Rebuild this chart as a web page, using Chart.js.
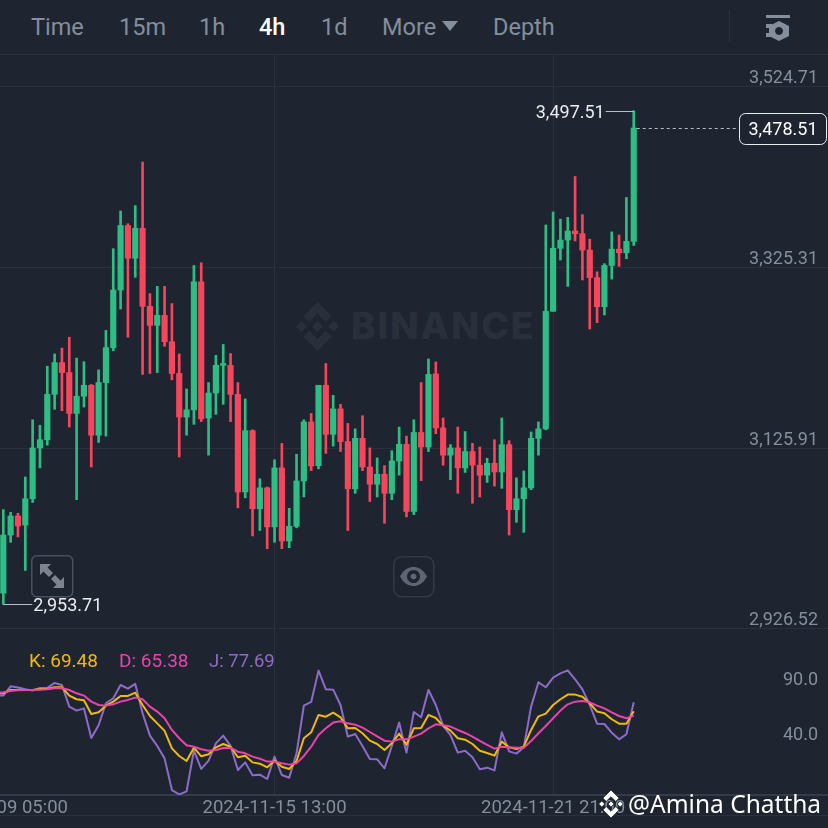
<!DOCTYPE html>
<html>
<head>
<meta charset="utf-8">
<title>ETH/USDT 4h</title>
<script src="https://cdn.jsdelivr.net/npm/chart.js@4/dist/chart.umd.min.js"></script>
<style>
  html, body { margin: 0; padding: 0; background: #1e2530; }
  #stage { position: relative; width: 828px; height: 828px; overflow: hidden; background: #1e2530; font-family: Roboto, sans-serif; }
  #stage canvas { position: absolute; left: 0; }
  .tab { position: absolute; top: 13px; font-size: 23.5px; line-height: 28px; color: #848e9c; }
  .tab.active { color: #fff; font-weight: 500; }
  .rule { position: absolute; left: 0; width: 828px; height: 1px; background: #2b313c; }
  .kdj { position: absolute; top: 651px; font-size: 19px; line-height: 20px; }
  svg { position: absolute; overflow: visible; }
  #wm { position: absolute; left: 351px; top: 304px; font-family: Inter, sans-serif; font-weight: 800; font-size: 37px; line-height: 44px; letter-spacing: 2px; color: #2a303b; }
  #credit { position: absolute; left: 628px; top: 787px; font-family: "Noto Sans", sans-serif; font-size: 24.5px; line-height: 34px; color: #fff; white-space: nowrap; }
</style>
</head>
<body>
<div id="stage">
  <div class="tab" style="left:31px">Time</div>
  <div class="tab" style="left:119px">15m</div>
  <div class="tab" style="left:199px">1h</div>
  <div class="tab active" style="left:259px">4h</div>
  <div class="tab" style="left:321px">1d</div>
  <div class="tab" style="left:382px">More</div>
  <div class="tab" style="left:493px">Depth</div>
  <svg style="left:0;top:0" width="828" height="54">
    <path d="M442 21h16l-8 10z" fill="#848e9c"/>
    <rect x="729" y="10" width="1" height="32" fill="#2b313c"/>
    <rect x="766" y="15" width="24" height="3" fill="#848e9c"/>
    <rect x="766" y="24" width="6" height="4" fill="#848e9c"/>
    <rect x="766" y="33" width="6" height="4" fill="#848e9c"/>
    <path d="M779 21l10 5v10l-10 5-10-5V26z M779 27a4 4 0 1 0 .01 0z" fill="#848e9c" fill-rule="evenodd"/>
  </svg>
  <div class="rule" style="top:54px"></div>

  <!-- watermark goes under the candles -->
  <svg style="left:293px;top:302px" width="49" height="49" viewBox="-50 -50 100 100" fill="#2a303b">
    <path d="M0-50L29-21 17-9 0-26-17-9-29-21z M0 50L29 21 17 9 0 26-17 9-29 21z M0-11L11 0 0 11-11 0z M-33-11L-22 0-33 11-44 0z M33-11L44 0 33 11 22 0z"/>
  </svg>
  <div id="wm">BINANCE</div>

  <canvas id="priceChart" width="828" height="575" style="top:55px"></canvas>
  <canvas id="kdjChart" width="828" height="185" style="top:630px"></canvas>

  <div class="rule" style="top:815px"></div>

  <svg style="left:31px;top:555px" width="42" height="42" fill="none">
    <rect x="0.75" y="0.75" width="41" height="41" rx="5" stroke="#4a505c" stroke-width="1.5"/>
    <path d="M9 9h11l-3.5 3.5L22 18l-4 4-5.5-5.5L9 20z M33 33H22l3.5-3.5L20 24l4-4 5.5 5.5L33 22z" fill="#7d838f"/>
  </svg>
  <svg style="left:393px;top:556px" width="41" height="41" fill="none">
    <rect x="0.75" y="0.75" width="40" height="40" rx="8" stroke="#343a45" stroke-width="1.5"/>
    <path d="M7 20.5C11 13 16 11 20.5 11S30 13 34 20.5C30 28 25 30 20.5 30S11 28 7 20.5z M20.5 14a6.500 6.500 0 1 0 .01 0z M20.5 17.500a3 3 0 1 1-.01 0z" fill="#5f6673" fill-rule="evenodd"/>
  </svg>

  <div class="kdj" style="left:29px;color:#f0b90b">K: 69.48</div>
  <div class="kdj" style="left:119px;color:#e844ac">D: 65.38</div>
  <div class="kdj" style="left:209px;color:#8d6cc9;font-size:18.5px">J: 77.69</div>

  <svg style="left:597px;top:790px" width="28" height="28" viewBox="-50 -50 100 100" fill="#fff" stroke="#1e2530" stroke-width="3">
    <path d="M0-50L29-21 17-9 0-26-17-9-29-21z M0 50L29 21 17 9 0 26-17 9-29 21z M0-11L11 0 0 11-11 0z M-33-11L-22 0-33 11-44 0z M33-11L44 0 33 11 22 0z"/>
  </svg>
  <div id="credit">@Amina Chattha</div>
</div>

<script>
// candles, one 4h bar each
const opens = [
  2966,3030,3051,3041,3070,3126,3135,3185,3220,3209,
  3164,3183,3195,3140,3198,3236.5,3300,3371,3335,3368,
  3282,3261,3272,3243,3208,3160,3168,3309,3159,3186.5,
  3217,3217,3185,3077.5,3145,3059,3082,3039,3104,3023.5,
  3039.6,3089.6,3154.6,3106.5,3195,3141,3169,3133,3081,3136.6,
  3105,3086,3097,3076,3111.6,3130,3056,3143,3127,3207.5,
  3148,3118,3126,3104,3122,3107,3096,3109,3099.5,3129.6,
  3058,3070,3082,3136.6,3147,3276.5,3346,3355,3365,3362,
  3344,3313.6,3281.6,3327,3345,3341,3353.6
];
const highs = [
  3058,3055,3054,3094,3157,3151,3216,3229.5,3236,3248,
  3225,3221,3196,3212,3255.5,3345.5,3387,3373,3393,3441,
  3296,3304,3304,3285,3229.5,3191,3327,3330,3198,3228,
  3240,3230,3198,3180,3146,3092,3083,3113,3131,3059.5,
  3119,3157,3164,3195,3219,3184,3174,3153,3147,3161.5,
  3126,3115,3106.5,3123,3149,3139,3157,3198,3224,3220.7,
  3159,3129.6,3149,3144,3131,3127,3114.6,3135,3159,3134,
  3093,3100.6,3143.6,3154.6,3371.6,3386,3378,3380,3425,3383,
  3356,3320,3329,3364,3360.6,3402,3497.51
];
const lows = [
  2953.71,3022,3028,2991,3066,3104,3129,3168.5,3167,3149,
  3069,3171,3105,3132,3139,3233,3279,3248,3314,3207,
  3208,3209,3238,3201,3116,3140,3152,3155,3118,3163,
  3174,3155,3060,3071,3029,3035,3015,3022,3015,3016,
  3038,3072,3101,3103,3120,3128,3122,3035,3076,3101,
  3067,3072,3043,3069,3096,3050,3052.5,3090,3122,3141.7,
  3107,3091,3076,3099,3065,3072,3088,3084,3081.5,3030,
  3044,3033,3080,3118,3146,3276.5,3333,3304,3354,3311,
  3257,3264,3272.5,3312,3326,3334.5,3349
];
const closes = [
  3030,3051,3040,3070,3126,3135,3185,3220,3209,3164,
  3183,3195,3140,3198,3236.5,3300,3371,3335,3368,3282,
  3261,3272,3243,3208,3160,3168,3309,3158,3186.5,3217,
  3219,3185,3077.5,3145,3059,3082,3039,3104,3023.5,3039.6,
  3089.6,3154.6,3106,3195,3141,3169,3133,3081,3136.6,3105,
  3086,3097,3076,3111.6,3130,3056,3143,3127,3207,3148,
  3118,3126,3104,3122,3107,3096,3109,3099.5,3129.6,3058,
  3070,3082,3136.6,3147,3276.5,3346,3355,3365,3362,3344,
  3313.6,3281.6,3327,3345,3341,3353.6,3478.51
];

// KDJ, these start one bar before the first candle (just off the left edge)
const kValues = [
  86.0,86.0,89.1,89.1,89.1,89.1,90.0,90.0,91.6,91.6,
  83.9,80.5,79.5,66.9,68.4,74.6,78.3,83.6,83.6,86.6,
  75.2,65.0,58.2,51.2,35.1,28.0,23.4,35.7,27.7,29.6,
  36.0,39.1,36.6,26.8,28.3,22.1,20.9,17.5,23.7,18.1,
  16.0,23.4,44.4,49.9,66.0,64.4,68.1,63.8,53.6,53.9,
  49.0,42.2,39.1,33.6,39.7,48.7,38.5,53.6,53.9,66.0,
  63.2,55.8,51.5,44.4,43.1,39.1,32.9,30.8,28.3,41.3,
  36.0,34.5,36.6,52.1,64.7,67.2,75.2,80.5,84.8,84.8,
  82.9,76.8,69.1,67.5,62.0,57.9,57.9,69.48
];
const dValues = [
  86.6,86.9,88.2,88.8,89.1,89.1,89.4,89.7,90.7,91.0,
  89.1,86.0,83.9,78.3,75.2,74.6,75.8,78.3,79.9,82.0,
  80.5,73.7,69.1,62.9,52.1,44.4,37.9,36.6,34.2,32.9,
  33.6,35.4,35.7,32.0,30.5,27.4,25.5,22.8,22.8,21.2,
  20.0,21.2,28.0,36.6,47.4,53.6,58.9,60.1,58.2,57.0,
  54.2,50.2,46.2,42.2,41.3,43.4,43.4,45.9,48.7,53.6,
  57.3,56.4,55.2,52.1,49.3,45.9,41.9,38.2,34.8,36.6,
  36.0,35.7,35.7,41.9,49.0,55.8,62.9,70.0,75.8,78.3,
  78.9,77.7,74.6,72.1,68.4,65.0,62.9,65.38
];
const jValues = [
  83.9,83.9,92.5,91.3,89.7,88.5,91.0,91.0,95.6,93.7,
  73.7,70.0,72.1,44.7,56.4,76.8,81.4,93.7,90.3,94.7,
  67.5,46.8,37.3,25.8,-3.5,-7.5,-4.7,32.9,16.0,23.7,
  39.7,46.8,37.3,15.0,22.1,10.1,10.7,6.7,27.4,10.4,
  7.9,30.5,74.6,78.0,107.0,89.7,89.4,75.2,45.9,48.4,
  37.3,25.2,24.9,16.6,37.3,58.9,31.1,68.7,63.8,89.1,
  75.2,55.8,47.4,31.1,32.9,26.8,15.7,17.2,14.7,49.9,
  32.3,30.2,36.0,73.7,96.2,91.6,100.5,104.5,107.3,99.0,
  89.7,75.2,57.9,57.6,49.6,43.4,48.1,77.69
];

// axes
const priceTicks = [2926.52, 3125.91, 3325.31, 3524.71];
const kdjTicks = [40, 90];
const timeTickBars = [-1, 37, 75];
const timeTickLabels = ["2024-11-09 05:00", "2024-11-15 13:00", "2024-11-21 21:00"];

const UP = "#2ebd85";
const DOWN = "#f6465d";
const GRID = "#2b313c";
const MUTED = "#848e9c";
const FONT = "Roboto, sans-serif";

// same bar window on both panels so the candles and KDJ line up
const BAR_MIN = -0.45;
const BAR_MAX = 112.5;

function fmtPrice(v) {
  return v.toLocaleString("en-US", { minimumFractionDigits: 2, maximumFractionDigits: 2 });
}

function noPadding(scale) {
  scale.paddingTop = scale.paddingBottom = scale.paddingLeft = scale.paddingRight = 0;
}

// mirrored labels sit inside the plot, so the y axis takes no room
function flatYAxis(scale) {
  noPadding(scale);
  scale.width = 0;
}

function setTicks(values) {
  return (scale) => {
    scale.ticks = values.map((v) => ({ value: v }));
  };
}

// high / low call-outs and the last price tag
const priceMarks = {
  id: "priceMarks",
  afterDatasetsDraw(chart) {
    const { ctx, scales } = chart;
    const x = scales.x;
    const y = scales.y;
    const hi = Math.max(...highs);
    const lo = Math.min(...lows);
    const hiBar = highs.indexOf(hi);
    const loBar = lows.indexOf(lo);
    const last = closes[closes.length - 1];

    ctx.save();
    ctx.font = "18px " + FONT;
    ctx.textBaseline = "middle";
    ctx.strokeStyle = "#b7bdc6";
    ctx.fillStyle = "#eaecef";
    ctx.lineWidth = 1;

    const hiY = Math.round(y.getPixelForValue(hi)) + 0.5;
    ctx.beginPath();
    ctx.moveTo(x.getPixelForValue(hiBar), hiY);
    ctx.lineTo(x.getPixelForValue(hiBar) - 28, hiY);
    ctx.stroke();
    ctx.textAlign = "right";
    ctx.fillText(fmtPrice(hi), x.getPixelForValue(hiBar) - 29, hiY + 2);

    const loY = Math.round(y.getPixelForValue(lo)) + 0.5;
    ctx.beginPath();
    ctx.moveTo(x.getPixelForValue(loBar), loY);
    ctx.lineTo(x.getPixelForValue(loBar) + 29, loY);
    ctx.stroke();
    ctx.textAlign = "left";
    ctx.fillText(fmtPrice(lo), x.getPixelForValue(loBar) + 30, loY + 2);

    // dashed line out to the last price box
    const lastY = Math.round(y.getPixelForValue(last)) + 0.5;
    ctx.setLineDash([3, 3]);
    ctx.beginPath();
    ctx.moveTo(x.getPixelForValue(closes.length - 1) + 3, lastY);
    ctx.lineTo(738, lastY);
    ctx.stroke();
    ctx.setLineDash([]);

    ctx.strokeStyle = "#eaecef";
    ctx.beginPath();
    ctx.roundRect(739.5, lastY - 15, 87, 31, 6);
    ctx.stroke();
    ctx.textAlign = "center";
    ctx.fillStyle = "#fff";
    ctx.fillText(fmtPrice(last), 783, lastY + 2);
    ctx.restore();
  },
};

function buildPriceChart(el) {
  const wicks = highs.map((h, i) => ({ x: i, y: [lows[i], h] }));
  const bodies = opens.map((o, i) => ({ x: i, y: [o, closes[i]] }));
  const colors = opens.map((o, i) => (closes[i] >= o ? UP : DOWN));
  return new Chart(el.getContext("2d"), {
    type: "bar",
    data: {
      datasets: [
        { data: bodies, backgroundColor: colors, barThickness: 5.5, grouped: false },
        { data: wicks, backgroundColor: colors, barThickness: 2, grouped: false },
      ],
    },
    options: {
      responsive: false,
      animation: false,
      events: [],
      plugins: { legend: { display: false }, tooltip: { enabled: false } },
      layout: { padding: 0 },
      scales: {
        x: {
          type: "linear",
          offset: false,
          min: BAR_MIN,
          max: BAR_MAX,
          afterBuildTicks: setTicks(timeTickBars),
          afterFit: (s) => { noPadding(s); s.height = 0; },
          grid: { color: GRID, drawTicks: false, offset: false },
          border: { display: false },
          ticks: { display: false },
        },
        y: {
          position: "right",
          min: 2925.4,
          max: 3558.9,
          afterBuildTicks: setTicks(priceTicks),
          afterFit: flatYAxis,
          grid: { color: GRID, drawTicks: false },
          border: { display: false },
          ticks: {
            mirror: true,
            padding: -10,
            labelOffset: -8,
            color: MUTED,
            font: { family: FONT, size: 18 },
            callback: (v) => fmtPrice(v),
          },
        },
      },
    },
    plugins: [priceMarks],
  });
}

function kdjLine(values, color) {
  return {
    data: values.map((v, i) => ({ x: i - 1, y: v })),
    borderColor: color,
    borderWidth: 2,
    pointRadius: 0,
    tension: 0,
    borderJoinStyle: "round",
  };
}

function buildKdjChart(el) {
  return new Chart(el.getContext("2d"), {
    type: "line",
    data: {
      // first dataset ends up on top
      datasets: [kdjLine(dValues, "#e844ac"), kdjLine(kValues, "#f0b90b"), kdjLine(jValues, "#8d6cc9")],
    },
    options: {
      responsive: false,
      animation: false,
      events: [],
      plugins: { legend: { display: false }, tooltip: { enabled: false } },
      layout: { padding: 0 },
      scales: {
        x: {
          type: "linear",
          min: BAR_MIN,
          max: BAR_MAX,
          afterBuildTicks: setTicks(timeTickBars),
          afterFit: (s) => { noPadding(s); s.height = 20; },
          grid: { color: GRID, drawTicks: false },
          border: { display: true, color: "#363c47", width: 2 },
          ticks: {
            autoSkip: false,
            maxRotation: 0,
            minRotation: 0,
            padding: 2,
            color: MUTED,
            font: { family: FONT, size: 18.5 },
            callback: (v, i) => timeTickLabels[i],
          },
        },
        y: {
          position: "right",
          min: -8.1,
          max: 144.6,
          afterBuildTicks: setTicks(kdjTicks),
          afterFit: flatYAxis,
          grid: { display: false },
          border: { display: false },
          ticks: {
            mirror: true,
            padding: -10,
            labelOffset: -8,
            color: MUTED,
            font: { family: FONT, size: 18 },
            callback: (v) => v.toFixed(1),
          },
        },
      },
    },
  });
}

buildPriceChart(document.getElementById("priceChart"));
buildKdjChart(document.getElementById("kdjChart"));
</script>
</body>
</html>
